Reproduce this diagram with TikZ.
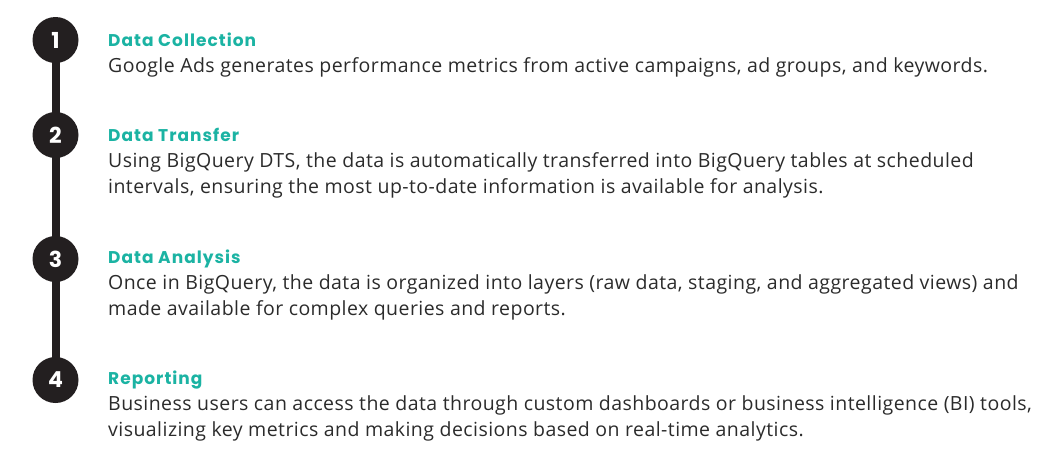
\documentclass[tikz,border=0pt]{standalone}
\usepackage{fontspec}
\setmainfont{Open Sans}[LetterSpace=2.3]
\newfontfamily\headfont{Poppins}
\newfontfamily\titlefont{Poppins}[LetterSpace=6]
\usetikzlibrary{backgrounds}
\definecolor{stepteal}{HTML}{1BB3A3}
\definecolor{dotblack}{HTML}{231F20}
\definecolor{bodygray}{HTML}{2B2B2B}
\begin{document}
\begin{tikzpicture}[x=1pt,y=-1pt,
    num/.style={circle,fill=dotblack,minimum size=46pt,inner sep=0pt,text=white,font=\headfont\bfseries\fontsize{22}{22}\selectfont},
    steptitle/.style={anchor=base west,inner sep=0pt,text=stepteal,font=\titlefont\bfseries\fontsize{17}{17}\selectfont},
    stepbody/.style={anchor=base west,inner sep=0pt,text=bodygray,font=\fontsize{19.5}{19.5}\selectfont}]
\useasboundingbox (0,0) rectangle (1046,466);
    \foreach \n/\y in {1/40,2/135,3/259,4/380}
    \node[num] (n\n) at (55.5,\y) {\n};
\begin{scope}[on background layer]
\draw[line width=8pt,dotblack] (n1.center) -- (n4.center);
\end{scope}
    \node[steptitle] (t1) at (108,46) {Data Collection};
    \node[stepbody] (b1) at (108,72) {Google Ads generates performance metrics from active campaigns, ad groups, and keywords.};
    \node[steptitle] (t2) at (108,141) {Data Transfer};
    \node[stepbody] (b2) at (108,167) {Using BigQuery DTS, the data is automatically transferred into BigQuery tables at scheduled};
    \node[stepbody] (b2x) at (108,193) {intervals, ensuring the most up-to-date information is available for analysis.};
    \node[steptitle] (t3) at (108,263) {Data Analysis};
    \node[stepbody] (b3) at (108,289) {Once in BigQuery, the data is organized into layers (raw data, staging, and aggregated views) and};
    \node[stepbody] (b3x) at (108,315) {made available for complex queries and reports.};
    \node[steptitle] (t4) at (108,384) {Reporting};
    \node[stepbody] (b4) at (108,410) {Business users can access the data through custom dashboards or business intelligence (BI) tools,};
    \node[stepbody] (b4x) at (108,436) {visualizing key metrics and making decisions based on real-time analytics.};
\end{tikzpicture}
\end{document}
